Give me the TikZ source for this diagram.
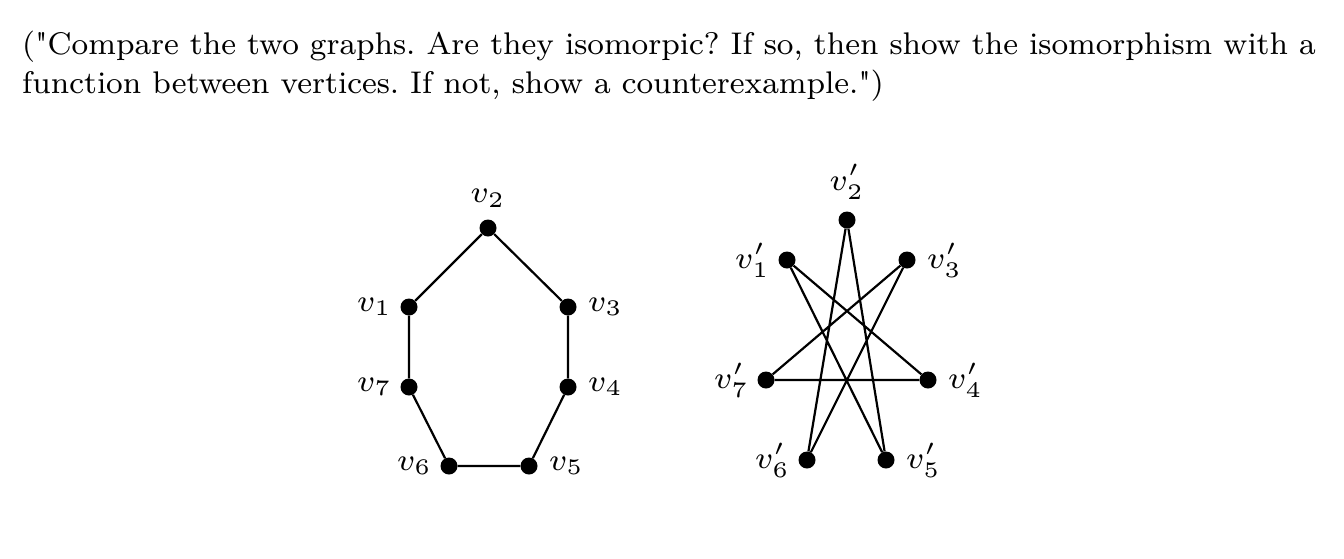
\documentclass[tikz,border=0pt]{standalone}
\usepackage{graphicx}
\usepackage{fontspec}
\newfontfamily\qfont{lmroman8-regular.otf}[Ligatures=TeXOff]
\newcommand{\lbl}[1]{\scalebox{4.45}{$#1$}}
\begin{document}
\begin{tikzpicture}[x=1pt,y=-1pt,
  vtx/.style={circle,fill=black,inner sep=0pt,minimum size=17pt},
  edge/.style={line width=2.2pt},
  every label/.style={inner sep=0pt,font=\fontsize{7}{8}\selectfont},
  lL/.style={label={[label distance=8pt]left:\lbl{#1}}},
  lR/.style={label={[label distance=11pt]right:\lbl{#1}}},
  lA/.style={label={[label distance=12pt]above:\lbl{#1}}}]
\useasboundingbox (0,0) rectangle (1344,558);
\node[anchor=north west,inner sep=0pt,align=left,
  font=\qfont\fontsize{31.3}{39}\selectfont\frenchspacing] (q) at (22,31)
  {("Compare the two graphs. Are they isomorpic? If so, then show the isomorphism with a\\ function between vertices. If not, show a counterexample.")};
% left graph
\node[vtx,lL={v_1}] (a1) at (409,307) {};
\node[vtx,lA={v_2}] (a2) at (488,228) {};
\node[vtx,lR={v_3}] (a3) at (568,307) {};
\node[vtx,lR={v_4}] (a4) at (568,387) {};
\node[vtx,lR={v_5}] (a5) at (529,466) {};
\node[vtx,lL={v_6}] (a6) at (449,466) {};
\node[vtx,lL={v_7}] (a7) at (409,387) {};
\draw[edge] (a1)--(a2)--(a3)--(a4)--(a5)--(a6)--(a7)--(a1);
% right graph
\node[vtx,lL={v_1'}] (b1) at (787,260) {};
\node[vtx,lA={v_2'}] (b2) at (847,220) {};
\node[vtx,lR={v_3'}] (b3) at (907,260) {};
\node[vtx,lR={v_4'}] (b4) at (928,380) {};
\node[vtx,lR={v_5'}] (b5) at (886,460) {};
\node[vtx,lL={v_6'}] (b6) at (807,460) {};
\node[vtx,lL={v_7'}] (b7) at (766,380) {};
\draw[edge] (b1)--(b4) (b1)--(b5) (b2)--(b5) (b2)--(b6) (b3)--(b6) (b3)--(b7) (b7)--(b4);
\end{tikzpicture}
\end{document}
